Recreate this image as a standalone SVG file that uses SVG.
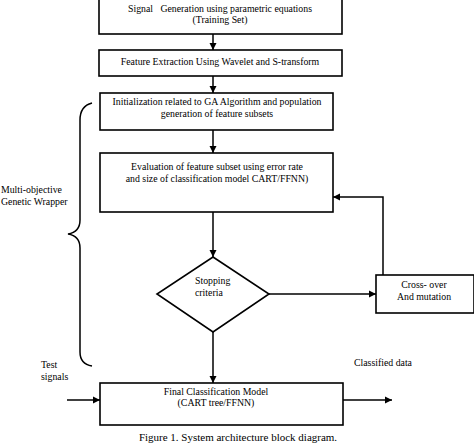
<svg xmlns="http://www.w3.org/2000/svg" width="474" height="444" viewBox="0 0 474 444">
<style>
.b{fill:#fff;stroke:#000;stroke-width:1.6}
.t{font-family:'Liberation Serif','DejaVu Serif',serif;font-size:9.8px;fill:#000;text-anchor:middle}
.l{font-family:'Liberation Serif','DejaVu Serif',serif;font-size:9.8px;fill:#000}
.c{fill:none;stroke:#000;stroke-width:1.5}
</style>
<defs>
<marker id="a" markerWidth="8" markerHeight="8" refX="7" refY="4" orient="auto" markerUnits="userSpaceOnUse">
<path d="M0,0.5 L7,4 L0,7.5 Z" fill="#000"/>
</marker>
</defs>
<rect width="474" height="444" fill="#fff"/>
<g id="connectors">
<line class="c" x1="213" y1="34" x2="213" y2="50" marker-end="url(#a)"/>
<line class="c" x1="213" y1="76" x2="213" y2="93" marker-end="url(#a)"/>
<line class="c" x1="213" y1="130" x2="213" y2="153" marker-end="url(#a)"/>
<line class="c" x1="213" y1="212" x2="213" y2="257" marker-end="url(#a)"/>
<line class="c" x1="269" y1="294" x2="376" y2="294" marker-end="url(#a)"/>
<polyline class="c" points="383,275 383,197 333,197" marker-end="url(#a)"/>
<line class="c" x1="213" y1="332" x2="213" y2="383" marker-end="url(#a)"/>
<line class="c" x1="67" y1="400" x2="100" y2="400" marker-end="url(#a)"/>
<line class="c" x1="343" y1="400" x2="392" y2="400" marker-end="url(#a)"/>
</g>
<g id="n1"><rect class="b" x="99" y="-1" width="243" height="35"/>
<text class="t" x="220" y="12" xml:space="preserve">Signal   Generation using parametric equations</text>
<text class="t" x="220" y="23">(Training Set)</text></g>
<g id="n2"><rect class="b" x="99" y="50" width="243" height="26"/>
<text class="t" x="220" y="65">Feature Extraction Using Wavelet and S-transform</text></g>
<g id="n3"><rect class="b" x="100" y="93" width="233" height="37"/>
<text class="t" x="217" y="105">Initialization related to GA Algorithm and population</text>
<text class="t" x="217" y="117">generation of feature subsets</text></g>
<g id="n4"><rect class="b" x="100" y="153" width="233" height="59"/>
<text class="t" x="217" y="170">Evaluation of feature subset using error rate</text>
<text class="t" x="217" y="182">and size of classification model CART/FFNN)</text></g>
<g id="n5"><polygon class="b" points="213,257 269,294 213,332 157,294"/>
<text class="l" x="195" y="284">Stopping</text>
<text class="l" x="195" y="296">criteria</text></g>
<g id="n6"><rect class="b" x="376" y="275" width="98" height="38"/>
<text class="t" x="424" y="288">Cross- over</text>
<text class="t" x="424" y="300">And mutation</text></g>
<g id="n7"><rect class="b" x="100" y="383" width="243" height="42"/>
<text class="t" x="216" y="395">Final Classification Model</text>
<text class="t" x="216" y="406">(CART tree/FFNN)</text></g>
<g id="brace"><path class="c" d="M92,103 Q80,106 80,120 L80,220 Q80,232 68,234 Q80,236 80,248 L80,352 Q80,364 92,366"/>
<text class="l" x="1" y="193">Multi-objective</text>
<text class="l" x="1" y="205">Genetic Wrapper</text></g>
<g id="labels">
<text class="l" x="41" y="368">Test</text>
<text class="l" x="41" y="380">signals</text>
<text class="l" x="354" y="366">Classified data</text>
<text class="t" x="238" y="441" style="font-size:11px">Figure 1. System architecture block diagram.</text>
</g>
</svg>
